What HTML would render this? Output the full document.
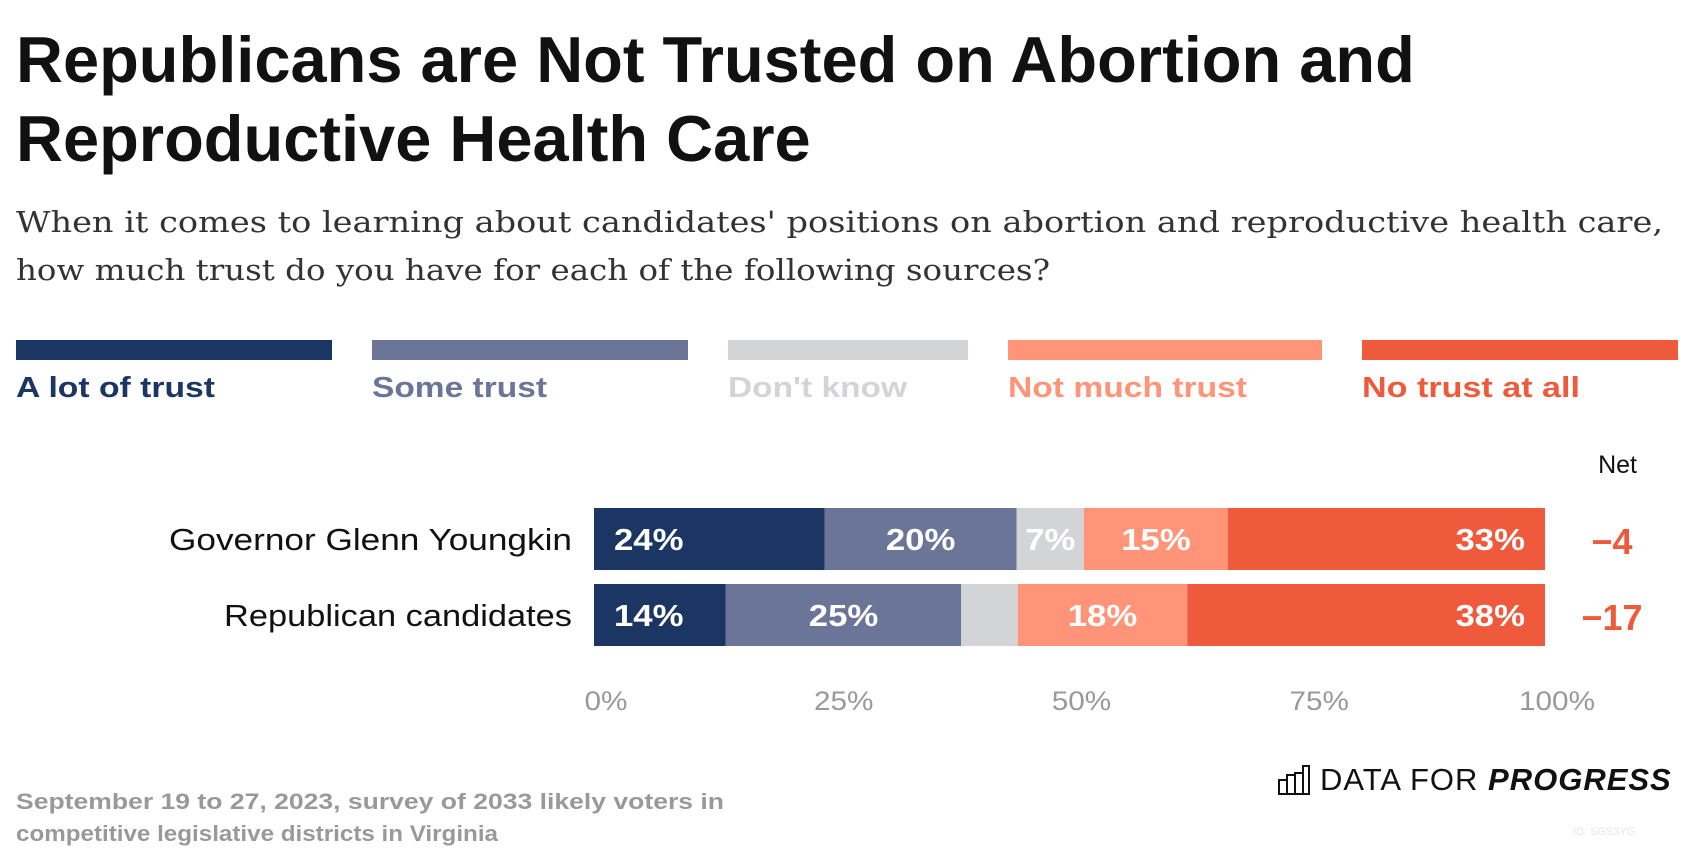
<!DOCTYPE html>
<html><head><meta charset="utf-8"><style>
body{margin:0;width:1694px;height:844px;background:#fff;font-family:"Liberation Sans",sans-serif;overflow:hidden;position:relative}
.abs{position:absolute;white-space:nowrap}
.fit{display:inline-block;transform-origin:0 0}
</style></head><body>
<div class="abs" style="left:16px;top:20px;font-size:65px;font-weight:bold;color:#111;line-height:79px">Republicans are Not Trusted on Abortion and<br>Reproductive Health Care</div>
<div class="abs" style="left:16px;top:198px;font-family:'DejaVu Serif',serif;font-size:29px;color:#333;line-height:48px"><span class="fit" data-w="1647">When it comes to learning about candidates' positions on abortion and reproductive health care,</span><br><span class="fit" data-w="1034">how much trust do you have for each of the following sources?</span></div>
<svg id="chart" width="1694" height="844" style="position:absolute;left:0;top:0"></svg>
<div class="abs" style="left:16px;top:786px;font-size:22px;font-weight:bold;color:#999;line-height:32px"><span class="fit" data-w="708">September 19 to 27, 2023, survey of 2033 likely voters in</span><br><span class="fit" data-w="482">competitive legislative districts in Virginia</span></div>
<div class="abs" style="left:1278px;top:762px;font-size:31px;color:#111;display:flex;align-items:center">
<svg width="32" height="30" style="margin-right:10px"><g fill="none" stroke="#111" stroke-width="2"><rect x="1" y="15" width="8" height="14"/><rect x="9" y="10" width="8" height="19"/><rect x="17" y="8" width="8" height="21"/><rect x="25" y="1" width="6" height="28"/></g></svg>
<span style="letter-spacing:1px">DATA FOR <b><i>PROGRESS</i></b></span></div>
<div class="abs" style="left:1573px;top:826px;font-size:11px;color:#e6e6e6">ID: SGS3YG</div>
<script>
const categories=["Governor Glenn Youngkin","Republican candidates"];
const seriesNames=["A lot of trust","Some trust","Don't know","Not much trust","No trust at all"];
const aLot=[24,14];
const some=[20,25];
const dontKnow=[7,6];
const notMuch=[15,18];
const noTrust=[33,38];
const shownLabels=[["24%","20%","7%","15%","33%"],["14%","25%","","18%","38%"]];
const netValues=["−4","−17"];
const ticks=[0,25,50,75,100];
const colors=["#1c3664","#6a7597","#d3d4d6","#ff9478","#f05a3c"];
document.querySelectorAll('.fit').forEach(s=>{const w=s.getBoundingClientRect().width;s.style.transform='scaleX('+(+s.dataset.w/w)+')';});
const svg=document.getElementById('chart');
const NS="http://www.w3.org/2000/svg";
const x0=594,x1=1545;
const xs=v=>x0+(x1-x0)*v/100;
const rowTop=[508,584],rowH=62;
function mk(t,a){const e=document.createElementNS(NS,t);for(const k in a)e.setAttribute(k,a[k]);svg.appendChild(e);return e;}
function stretch(t,f){const w=t.getComputedTextLength();t.setAttribute('textLength',w*f);t.setAttribute('lengthAdjust','spacingAndGlyphs');}
const legX=[16,372,728,1008,1362],legW=[316,316,240,314,316],legTW=[199,175,179,239,218];
seriesNames.forEach((n,i)=>{
 const r=mk('rect',{x:legX[i],y:340,width:legW[i],height:20,fill:colors[i]});
 
 
 const t=mk('text',{x:legX[i],y:397,fill:colors[i],'font-size':29,'font-weight':'bold',textLength:legTW[i],lengthAdjust:'spacingAndGlyphs'});
 t.textContent=n;
 
 
});
const nt=mk('text',{x:1637,y:473,'text-anchor':'end','font-size':25,fill:'#111'});nt.textContent='Net';


const catW=[403,348];
const series=[aLot,some,dontKnow,notMuch,noTrust];
categories.forEach((c,r)=>{
 const vals=series.map(s=>s[r]);const tot=vals.reduce((a,b)=>a+b,0);
 let acc=0;
 vals.forEach((v,i)=>{
  const a=xs(acc*100/tot),b=xs((acc+v)*100/tot);acc+=v;
  const rc=mk('rect',{x:a,y:rowTop[r],width:b-a,height:rowH,fill:colors[i]});
  
  
  const lb=shownLabels[r][i];
  if(lb){
   const last=i===vals.length-1;
   let tx,anc;
   if(i===0){tx=a+20;anc='start';}else if(last){tx=b-20;anc='end';}else{tx=(a+b)/2;anc='middle';}
   const t=mk('text',{x:tx,y:rowTop[r]+42,'text-anchor':anc,fill:'#fff','font-size':31,'font-weight':'bold'});
   t.textContent=lb;
   
   
   stretch(t,1.12);
  }
 });
 const cl=mk('text',{x:572,y:rowTop[r]+42,'text-anchor':'end','font-size':31,fill:'#111',textLength:catW[r],lengthAdjust:'spacingAndGlyphs'});cl.textContent=c;
 
 
 const nv=mk('text',{x:1612,y:rowTop[r]+46,'text-anchor':'middle','font-size':36,'font-weight':'bold',fill:'#f05a3c'});nv.textContent=netValues[r];
 
 
});
ticks.forEach(v=>{
 const t=mk('text',{x:xs(v)+12,y:710,'text-anchor':'middle','font-size':27,fill:'#999'});t.textContent=v+'%';
 
 
 stretch(t,1.1);
});
</script>
</body></html>
